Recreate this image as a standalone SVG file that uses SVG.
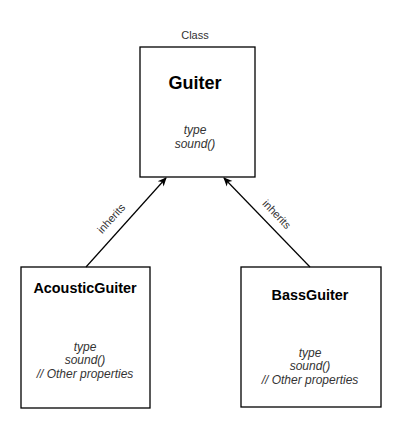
<svg xmlns="http://www.w3.org/2000/svg" width="401" height="428" viewBox="0 0 401 428">
<style>
.box{fill:#fff;stroke:#000;stroke-width:1.3}
text{font-family:"Liberation Sans",Arial,sans-serif;fill:#000;text-anchor:middle}
.t{font-size:14.4px;font-weight:bold}
.big{font-size:18px;font-weight:bold}
.it{font-size:12px;font-style:italic;fill:#333}
.lbl{font-size:11px;fill:#333}
.edge{stroke:#000;stroke-width:1.2;fill:none}
</style>
<defs>
<marker id="ah" markerWidth="10" markerHeight="10" refX="8" refY="5" orient="auto" markerUnits="userSpaceOnUse">
<path d="M0,1 L9,5 L0,9 L2.5,5 Z" fill="#000"/>
</marker>
</defs>
<rect width="401" height="428" fill="#fff"/>
<text class="lbl" x="195" y="39">Class</text>
<g id="guiter">
<rect class="box" x="140" y="47" width="115" height="130"/>
<text class="big" x="195" y="89">Guiter</text>
<text class="it" x="195" y="134">type</text>
<text class="it" x="195" y="148">sound()</text>
</g>
<g id="acoustic">
<rect class="box" x="21" y="267" width="129" height="141"/>
<text class="t" x="85" y="293">AcousticGuiter</text>
<text class="it" x="85" y="351">type</text>
<text class="it" x="85" y="364">sound()</text>
<text class="it" x="85" y="378">// Other properties</text>
</g>
<g id="bass">
<rect class="box" x="241" y="267" width="140" height="140"/>
<text class="t" x="310" y="300">BassGuiter</text>
<text class="it" x="310" y="357">type</text>
<text class="it" x="310" y="370">sound()</text>
<text class="it" x="310" y="384">// Other properties</text>
</g>
<g id="connectors">
<line class="edge" x1="86" y1="267" x2="166" y2="178" marker-end="url(#ah)"/>
<line class="edge" x1="310" y1="267" x2="224" y2="178" marker-end="url(#ah)"/>
<text class="lbl" transform="translate(114,221) rotate(-48)">inherits</text>
<text class="lbl" transform="translate(274,217) rotate(46)">inherits</text>
</g>
</svg>
